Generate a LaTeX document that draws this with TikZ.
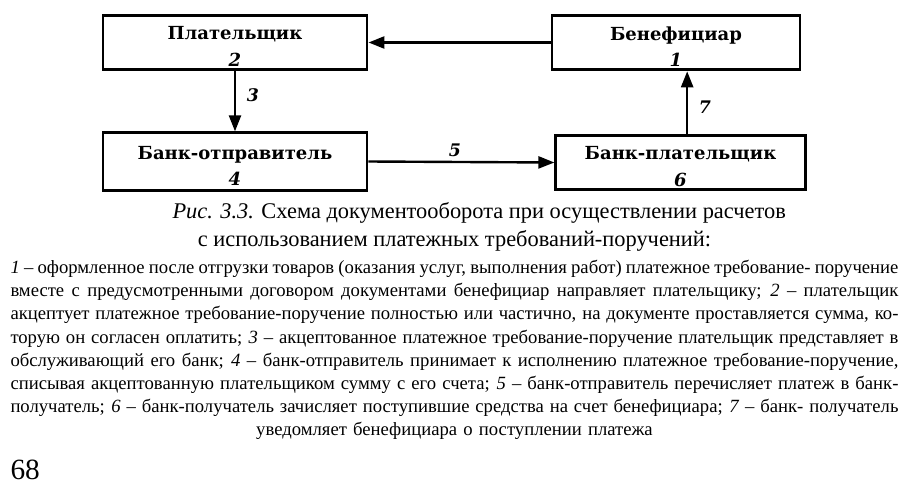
\documentclass[tikz,border=0pt]{standalone}
\usepackage{fontspec}
\setmainfont{Liberation Serif}
\newfontfamily\boxfont{DejaVu Serif}
\usetikzlibrary{arrows.meta}

\newlength{\legendw}
\setlength{\legendw}{666pt}
\newcommand{\legline}[1]{{\spaceskip=0pt\xspaceskip=0pt\makebox[\legendw][s]{#1}}}

\tikzset{every picture/.style={line width=0.75pt}}
\tikzset{
  party/.style={draw, line width=2.2pt, inner sep=0pt},
  partytext/.style={inner sep=0pt, align=center,
    font=\boxfont\bfseries\fontsize{13.5}{20}\selectfont},
  flow/.style={line width=1.8pt, -{Triangle[length=12pt,width=9pt]}},
  steplabel/.style={font=\boxfont\bfseries\itshape\fontsize{13}{15}\selectfont},
}

\begin{document}
\begin{tikzpicture}[x=0.75pt,y=0.75pt,yscale=-1,xscale=1]
%set diagram left start at 0, and has height of 496
\useasboundingbox (0,0) rectangle (914,496);

%Shape: Rectangle [payer]
\node (payer) [party, minimum width=198pt, minimum height=41pt] at (235,42.5) {};
%Shape: Rectangle [benef]
\node (benef) [party, minimum width=186pt, minimum height=41pt] at (676,42.5) {};
%Shape: Rectangle [sender]
\node (sender) [party, minimum width=198pt, minimum height=43pt] at (235,161.5) {};
%Shape: Rectangle [bankpay]
\node (bankpay) [party, minimum width=187pt, minimum height=41pt] at (680.5,162.5) {};

% Text Node
\node (payertxt) [partytext] at (235,46.5) {Плательщик\\ \textit{2}};
% Text Node
\node (beneftxt) [partytext] at (676,46.5) {Бенефициар\\ \textit{1}};
% Text Node
\node (sendertxt) [partytext] at (235,166) {Банк-отправитель\\ \textit{4}};
% Text Node
\node (bankpaytxt) [partytext] at (680.5,166.5) {Банк-плательщик\\ \textit{6}};

%Straight Lines [1]
\draw [flow] (benef.west) -- (payer.east);
%Straight Lines [3]
\draw [flow] (payer.south) -- (sender.north);
%Straight Lines [5]
\draw [flow] (sender.east) -- (bankpay.west);
%Straight Lines [7]
\draw [flow] ([xshift=5pt]bankpay.north) -- ([xshift=5pt]bankpay.north |- benef.south);

% Text Node
\node (lbl3) [steplabel] at (253,95) {3};
% Text Node
\node (lbl5) [steplabel] at (455,150) {5};
% Text Node
\node (lbl7) [steplabel] at (705,107) {7};

% Text Node
\node (caption) [anchor=west, align=left, inner sep=0pt, font=\fontsize{16.8}{20.5}\selectfont] at (172,227)
  {\textit{Рис. 3.3.} Схема документооборота при осуществлении расчетов\\
   \hspace*{19pt}с использованием платежных требований-поручений:};
% Text Node
\node (legend) [anchor=north west, align=left, inner sep=0pt, text width=\legendw,
  font=\fontsize{14}{17.3}\selectfont] at (10,260)
  {\legline{\textit{1} – оформленное после отгрузки товаров (оказания услуг, выполнения работ) платежное требование- поручение}\\
   \legline{вместе с предусмотренными договором документами бенефициар направляет плательщику; \textit{2} – плательщик}\\
   \legline{акцептует платежное требование-поручение полностью или частично, на документе проставляется сумма, ко-}\\
   \legline{торую он согласен оплатить; \textit{3} – акцептованное платежное требование-поручение плательщик представляет в}\\
   \legline{обслуживающий его банк; \textit{4} – банк-отправитель принимает к исполнению платежное требование-поручение,}\\
   \legline{списывая акцептованную плательщиком сумму с его счета; \textit{5} – банк-отправитель перечисляет платеж в банк-}\\
   \legline{получатель; \textit{6} – банк-получатель зачисляет поступившие средства на счет бенефициара; \textit{7} – банк- получатель}\\
   \makebox[\legendw][c]{уведомляет бенефициара о поступлении платежа}};
% Text Node
\node (page) [anchor=west, inner sep=0pt, font=\fontsize{22}{24}\selectfont] at (10,470) {68};

\end{tikzpicture}
\end{document}
